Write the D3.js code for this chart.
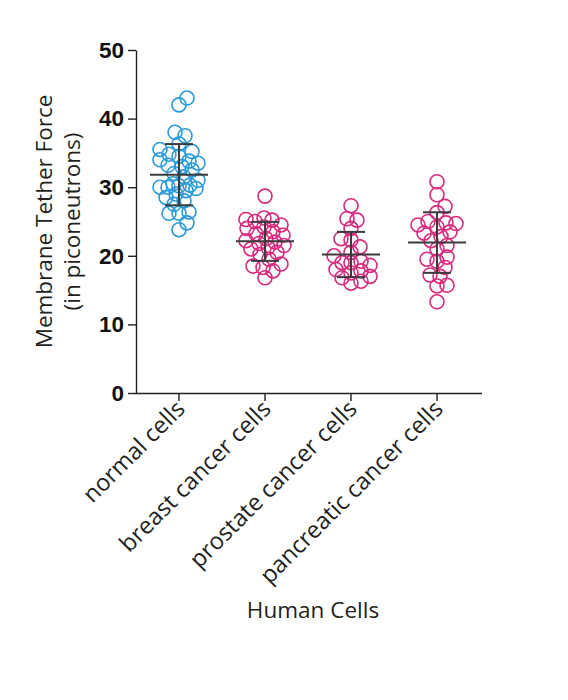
<!DOCTYPE html>
<html>
<head>
<meta charset="utf-8">
<script src="https://cdn.jsdelivr.net/npm/d3@7"></script>
<style>
  html, body { margin: 0; padding: 0; background: #fff; }
  svg { display: block; }
</style>
</head>
<body>
<svg id="chart" width="568" height="700"></svg>
<script>
// ---------- data ----------
const categories = ["normal cells", "breast cancer cells", "prostate cancer cells", "pancreatic cancer cells"];
const normalValues = [43, 42, 38, 37.5, 36.3, 35.5, 35.2, 34.8, 34.5, 34, 33.8, 33.5, 33.2, 33, 32.5, 32, 31.5, 31,
  30.5, 30.3, 30.2, 30, 30, 29.8, 29.5, 29, 28.5, 28, 27.5, 26.4, 26.2, 26.2, 24.8, 23.8];
const breastValues = [28.7, 25.5, 25.3, 25.2, 25, 24.5, 24.2, 24, 23.5, 23.2, 23, 22.5, 22.2, 22, 21.8, 21.5, 21.2,
  21, 20.5, 20.2, 19.5, 18.8, 18.5, 18.3, 17.8, 16.8];
const prostateValues = [27.3, 25.4, 25.2, 24, 22.5, 22.3, 21.3, 20.5, 20.0, 19.2, 19, 19.0, 18.6, 18, 17.8, 17.5,
  17, 16.8, 16.3, 16.0];
const pancreaticValues = [30.8, 28.9, 27.2, 26.3, 25, 24.8, 24.7, 24.5, 24.2, 23.5, 23.3, 22.8, 22.2, 21.5, 21,
  19.8, 19.5, 19.2, 18.3, 17.2, 17, 15.7, 15.6, 13.3];
const seriesValues = [normalValues, breastValues, prostateValues, pancreaticValues];
const seriesColors = ["#2b9ad9", "#d82a7d", "#d82a7d", "#d82a7d"];
const yTicks = [0, 10, 20, 30, 40, 50];
const yTitle = ["Membrane Tether Force", "(in piconeutrons)"];
const xTitle = "Human Cells";

// ---------- layout ----------
const svg = d3.select("#chart");
const plot = { left: 136, right: 480, top: 50, bottom: 393, axisEnd: 482 };
const textFont = "'Open Sans', 'Noto Sans', sans-serif";
const inkColor = "#231f20";

const x = d3.scaleBand().domain(categories).range([plot.left, plot.right]).padding(0);
const y = d3.scaleLinear().domain([0, 50]).range([plot.bottom, plot.top]);

// ---------- axes ----------
const yAxis = svg.append("g")
  .attr("transform", `translate(${plot.left},0)`)
  .call(d3.axisLeft(y).tickValues(yTicks).tickSize(8).tickSizeOuter(0).tickPadding(4));
yAxis.select(".domain").attr("stroke", inkColor).attr("stroke-width", 1.4);
yAxis.selectAll(".tick line").attr("stroke", inkColor).attr("stroke-width", 1.4);
yAxis.selectAll(".tick text")
  .attr("font-family", "'Liberation Sans', Arial, sans-serif")
  .attr("font-weight", "bold")
  .attr("font-size", 22.5)
  .attr("fill", "#111");

const xAxis = svg.append("g")
  .attr("transform", `translate(0,${plot.bottom})`)
  .call(d3.axisBottom(x).tickSize(8).tickSizeOuter(0));
xAxis.select(".domain").attr("d", `M${plot.left},0.5H${plot.axisEnd}`)
  .attr("stroke", inkColor).attr("stroke-width", 1.4);
xAxis.selectAll(".tick line").attr("stroke", inkColor).attr("stroke-width", 1.4);
xAxis.selectAll(".tick text")
  .attr("font-family", textFont)
  .attr("font-size", 23.5)
  .attr("fill", inkColor)
  .attr("text-anchor", "end")
  .attr("dy", "0.32em")
  .attr("transform", "translate(2,12) rotate(-45)")
  .attr("x", 0).attr("y", 0);

// ---------- titles ----------
const yt = svg.append("text")
  .attr("transform", `translate(52,${(plot.top + plot.bottom) / 2}) rotate(-90)`)
  .attr("text-anchor", "middle")
  .attr("font-family", textFont)
  .attr("font-size", 22.5)
  .attr("fill", inkColor);
yt.selectAll("tspan").data(yTitle).join("tspan")
  .attr("x", 0).attr("dy", (d, i) => i === 0 ? 0 : 28)
  .text(d => d);

svg.append("text")
  .attr("x", (plot.left + plot.axisEnd) / 2 + 4)
  .attr("y", 618)
  .attr("text-anchor", "middle")
  .attr("font-family", textFont)
  .attr("font-size", 22.5)
  .attr("fill", inkColor)
  .text(xTitle);

// ---------- bounded beeswarm placement (deterministic) ----------
const radius = 7;
const minDist = 10;
const maxSpread = 19;
function swarm(values) {
  const pts = values.map(v => ({ v, py: y(v) })).sort((a, b) => a.v - b.v);
  const placed = [];
  pts.forEach(p => {
    let best = null, bestScore = -1;
    for (let k = 0; k <= 2 * maxSpread; k++) {
      const off = (k % 2 === 1 ? 1 : -1) * Math.ceil(k / 2);
      const dmin = placed.length
        ? d3.min(placed, q => Math.hypot(q.off - off, q.py - p.py)) : Infinity;
      if (dmin >= minDist) { best = off; break; }
      if (dmin > bestScore + 0.5) { bestScore = dmin; best = off; }
    }
    p.off = best;
    placed.push(p);
  });
  return placed;
}

const groups = svg.append("g");
categories.forEach((cat, i) => {
  const cx = x(cat) + x.bandwidth() / 2;
  const pts = swarm(seriesValues[i]);
  groups.append("g").selectAll("circle").data(pts).join("circle")
    .attr("cx", d => cx + d.off)
    .attr("cy", d => d.py)
    .attr("r", radius)
    .attr("fill", "none")
    .attr("stroke", seriesColors[i])
    .attr("stroke-width", 1.6);

  const m = d3.mean(seriesValues[i]);
  const sd = d3.deviation(seriesValues[i]);
  const eg = groups.append("g").attr("stroke", "#3b3b3b").attr("stroke-width", 2);
  eg.append("line").attr("x1", cx - 29).attr("x2", cx + 29).attr("y1", y(m)).attr("y2", y(m));
  eg.append("line").attr("x1", cx).attr("x2", cx).attr("y1", y(m + sd)).attr("y2", y(m - sd));
  eg.append("line").attr("x1", cx - 14).attr("x2", cx + 14).attr("y1", y(m + sd)).attr("y2", y(m + sd));
  eg.append("line").attr("x1", cx - 14).attr("x2", cx + 14).attr("y1", y(m - sd)).attr("y2", y(m - sd));
});
</script>
</body>
</html>
